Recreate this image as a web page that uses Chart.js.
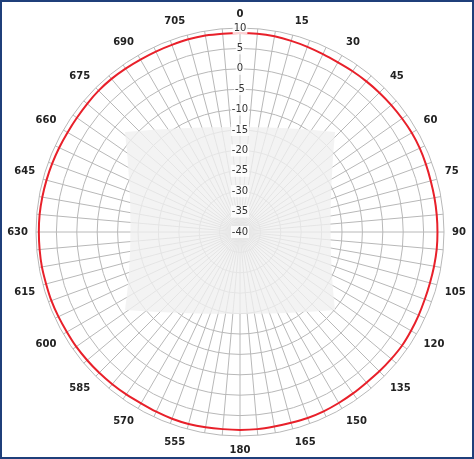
<!DOCTYPE html>
<html>
<head>
<meta charset="utf-8">
<script src="https://cdn.jsdelivr.net/npm/chart.js@4/dist/chart.umd.min.js"></script>
<style>
  html, body { margin: 0; padding: 0; background: #fff; }
  #wrap { width: 470px; height: 455px; border: 2px solid #1f3f7a; }
</style>
</head>
<body>
<div id="wrap"><canvas id="polar" width="470" height="455"></canvas></div>
<script>
// angle labels every 5 degrees, printed only every 15
var angleLabels = ["0","","","15","","","30","","","45","","","60","","","75","","","90","","",
  "105","","","120","","","135","","","150","","","165","","","180","","","555","","",
  "570","","","585","","","600","","","615","","","630","","","645","","","660","","",
  "675","","","690","","","705","",""];
// gain (dB)
var gain = [8.8,8.8,8.7,8.5,8.3,8.1,8.0,8.1,8.2,8.3,8.4,8.5,8.6,8.6,8.5,8.4,8.4,8.4,
  8.4,8.4,8.3,8.2,8.2,8.3,8.4,8.5,8.4,8.3,8.2,8.3,8.4,8.5,8.5,8.4,8.4,8.5,
  8.5,8.5,8.6,8.7,8.7,8.6,8.5,8.6,8.7,8.8,8.9,9.0,9.0,9.1,9.2,9.2,9.3,9.3,
  9.3,9.3,9.2,9.1,9.0,8.9,8.8,8.8,8.9,9.0,9.0,8.9,8.8,8.8,8.8,8.9,8.9,8.8];
var rMin = -40, rMax = 10, rStep = 5;

var haze = {
  id: 'haze',
  beforeDatasetsDraw: function(chart) {
    var c = chart.ctx, s = chart.scales.r;
    var x = s.xCenter, y = s.yCenter;
    c.save();
    c.fillStyle = 'rgba(240,240,240,0.8)';
    c.beginPath();
    c.moveTo(x - 115, y - 100);
    c.quadraticCurveTo(x, y - 110, x + 95, y - 100);
    c.quadraticCurveTo(x + 86, y, x + 95, y + 78);
    c.quadraticCurveTo(x, y + 86, x - 115, y + 78);
    c.quadraticCurveTo(x - 104, y, x - 115, y - 100);
    c.fill();
    c.restore();
  }
};

new Chart(document.getElementById('polar'), {
  type: 'radar',
  data: {
    labels: angleLabels,
    datasets: [{
      data: gain,
      borderColor: '#e8202a',
      borderWidth: 2,
      pointRadius: 0,
      fill: false,
      tension: 0.3
    }]
  },
  options: {
    responsive: false,
    animation: false,
    layout: { padding: { top: 6, bottom: 0, left: 0, right: 0 } },
    plugins: { legend: { display: false }, tooltip: { enabled: false } },
    scales: {
      r: {
        min: rMin, max: rMax,
        ticks: { stepSize: rStep, color: '#333', font: { family: 'DejaVu Sans', size: 10 },
          showLabelBackdrop: true, backdropColor: 'rgba(255,255,255,0.8)', backdropPadding: 1, z: 1 },
        grid: { circular: true, color: '#b8b8b8', lineWidth: 1 },
        angleLines: { color: '#b8b8b8', lineWidth: 1 },
        pointLabels: { color: '#222', padding: 2, font: { family: 'DejaVu Sans', size: 10, weight: 'bold' } }
      }
    }
  },
  plugins: [haze]
});
</script>
</body>
</html>
